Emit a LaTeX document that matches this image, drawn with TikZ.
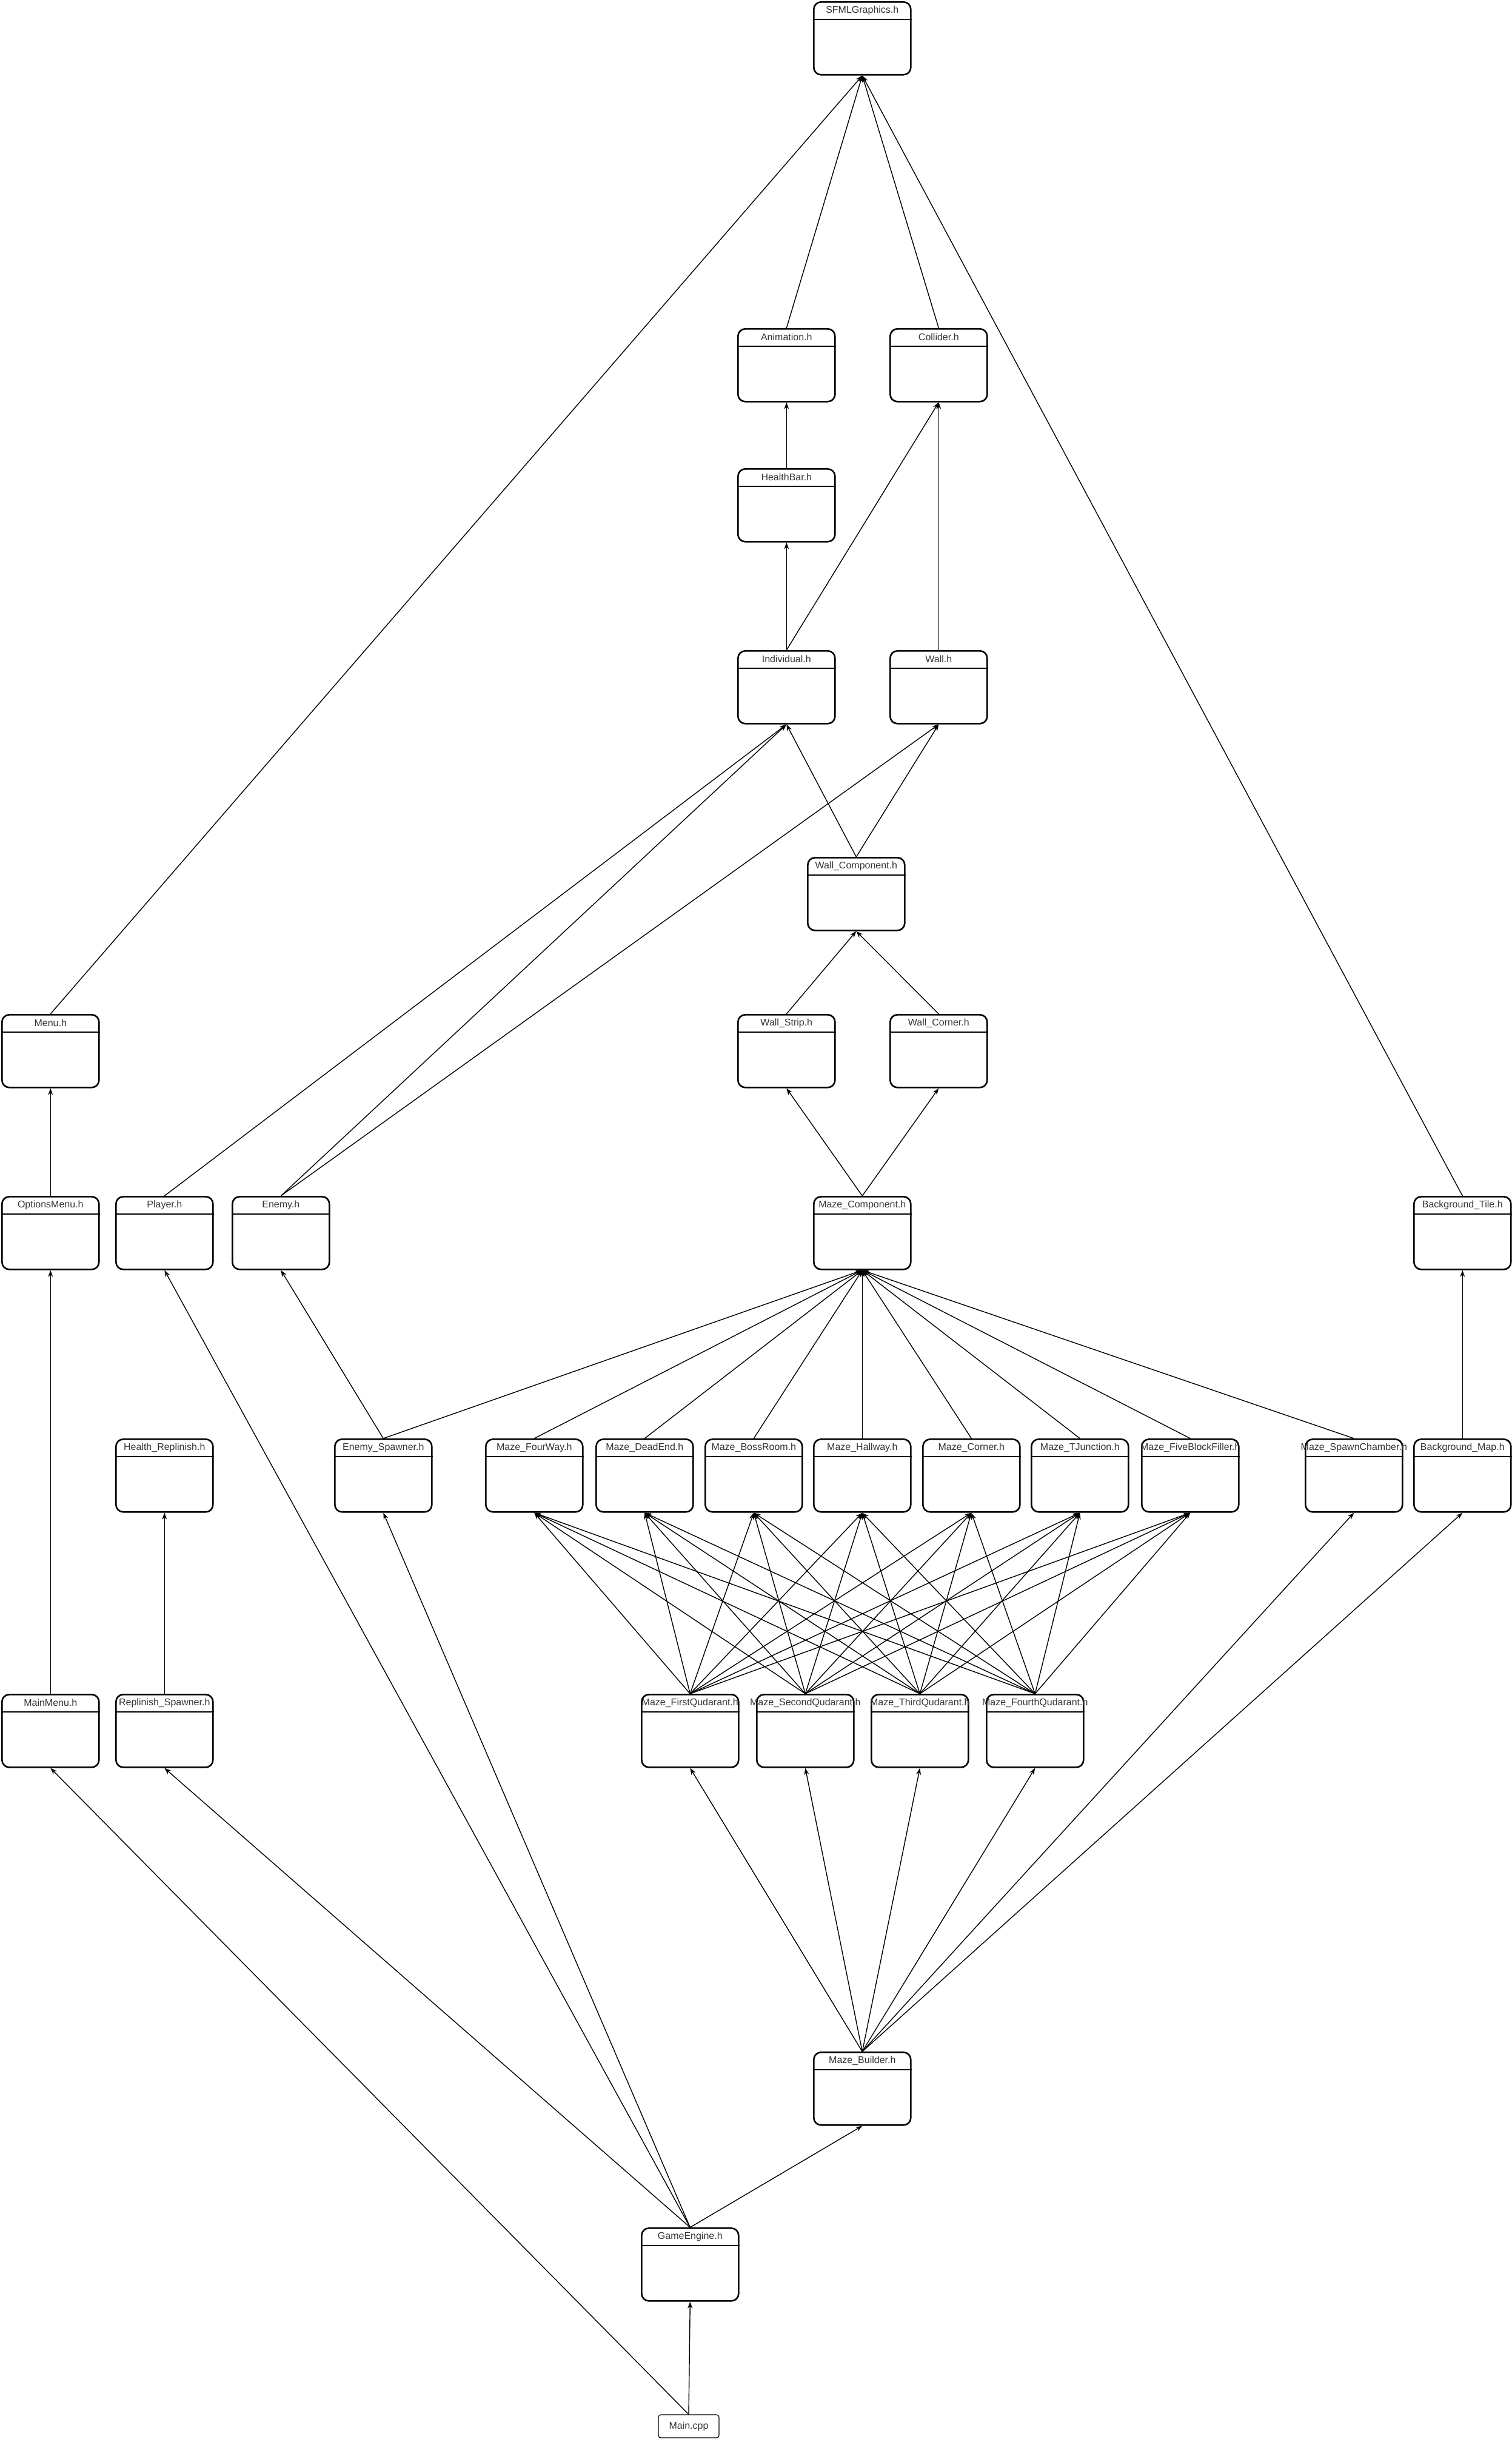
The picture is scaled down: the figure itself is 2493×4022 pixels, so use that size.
\documentclass[tikz,border=0pt]{standalone}
\usepackage{fontspec}
\setmainfont{Liberation Sans}
\usetikzlibrary{arrows.meta}
\tikzset{
 box/.style={draw,line width=2.6pt,rounded corners=12pt,minimum width=160pt,minimum height=120pt,anchor=north west,inner sep=0pt},
 hdr/.style={font=\fontsize{16}{18}\selectfont,text=black!80,inner sep=0pt},
 conn/.style={line width=1.4pt,-{Stealth[length=11pt,width=8pt]}},
}
\newcommand{\cls}[4]{%
 \node[box] (#1) at (#2,#3) {};
 \draw[line width=2.4pt] ([yshift=-30pt]#1.north west) -- ([yshift=-30pt]#1.north east);
 \node[hdr] (#1-t) at ([yshift=-15pt]#1.north) {#4};}
\begin{document}
\begin{tikzpicture}[x=1pt,y=-1pt]
\useasboundingbox (0,0) rectangle (2493,4022);
\cls{sfml}{1341}{2}{SFMLGraphics.h}
\cls{anim}{1216}{541}{Animation.h}
\cls{coll}{1467}{541}{Collider.h}
\cls{hb}{1216}{772}{HealthBar.h}
\cls{ind}{1216}{1072}{Individual.h}
\cls{wall}{1467}{1072}{Wall.h}
\cls{wc}{1331}{1413}{Wall\_Component.h}
\cls{menu}{2}{1672}{Menu.h}
\cls{ws}{1216}{1672}{Wall\_Strip.h}
\cls{wco}{1467}{1672}{Wall\_Corner.h}
\cls{opt}{2}{1972}{OptionsMenu.h}
\cls{pl}{190}{1972}{Player.h}
\cls{en}{382}{1972}{Enemy.h}
\cls{mc}{1341}{1972}{Maze\_Component.h}
\cls{bt}{2331}{1972}{Background\_Tile.h}
\cls{hr}{190}{2372}{Health\_Replinish.h}
\cls{es}{551}{2372}{Enemy\_Spawner.h}
\cls{r1}{800}{2372}{Maze\_FourWay.h}
\cls{r2}{982}{2372}{Maze\_DeadEnd.h}
\cls{r3}{1162}{2372}{Maze\_BossRoom.h}
\cls{r4}{1341}{2372}{Maze\_Hallway.h}
\cls{r5}{1521}{2372}{Maze\_Corner.h}
\cls{r6}{1700}{2372}{Maze\_TJunction.h}
\cls{r7}{1882}{2372}{Maze\_FiveBlockFiller.h}
\cls{sc}{2152}{2372}{Maze\_SpawnChamber.h}
\cls{bm}{2331}{2372}{Background\_Map.h}
\cls{mm}{2}{2793}{MainMenu.h}
\cls{rs}{190}{2793}{Replinish\_Spawner.h}
\cls{q1}{1057}{2793}{Maze\_FirstQudarant.h}
\cls{q2}{1247}{2793}{Maze\_SecondQudarant.h}
\cls{q3}{1436}{2793}{Maze\_ThirdQudarant.h}
\cls{q4}{1626}{2793}{Maze\_FourthQudarant.h}
\cls{mb}{1341}{3383}{Maze\_Builder.h}
\cls{ge}{1057}{3673}{GameEngine.h}
\node[draw,line width=1.2pt,rounded corners=4pt,minimum width=100pt,minimum height=38pt,hdr] (main) at (1136,4001) {Main.cpp};
\foreach \c/\p in {anim/sfml,coll/sfml,menu/sfml,bt/sfml,hb/anim,ind/hb,ind/coll,wall/coll,wc/ind,wc/wall,pl/ind,en/ind,en/wall,ws/wc,wco/wc,mc/ws,mc/wco,opt/menu,es/en,es/mc,r1/mc,r2/mc,r3/mc,r4/mc,r5/mc,r6/mc,r7/mc,sc/mc,bm/bt,rs/hr,mm/opt,mb/q1,mb/q2,mb/q3,mb/q4,mb/sc,mb/bm,ge/mb,ge/pl,ge/es,ge/rs,main/ge,main/mm}
 \draw[conn] (\c.north) -- (\p.south);
\foreach \q in {q1,q2,q3,q4}
 \foreach \r in {r1,r2,r3,r4,r5,r6,r7}
  \draw[conn] (\q.north) -- (\r.south);
\end{tikzpicture}
\end{document}
